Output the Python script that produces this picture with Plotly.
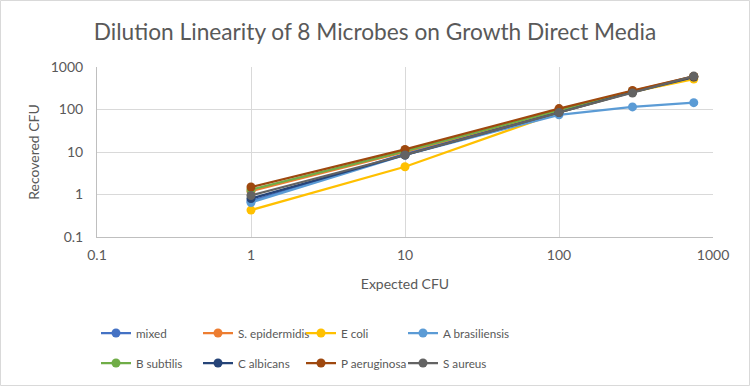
import plotly.graph_objects as go

expected = [1, 10, 100, 300, 750]
series_names = ["mixed", "S. epidermidis", "E coli", "A brasiliensis",
                "B subtilis", "C albicans", "P aeruginosa", "S aureus"]
mixed = [0.7, 9, 90, 260, 580]
s_epidermidis = [1.2, 10, 95, 270, 600]
e_coli = [0.43, 4.5, 85, 260, 520]
a_brasiliensis = [0.65, 8.5, 75, 115, 145]
b_subtilis = [1.3, 10.5, 95, 265, 590]
c_albicans = [0.8, 8.5, 85, 255, 580]
p_aeruginosa = [1.5, 11.5, 105, 280, 600]
s_aureus = [0.95, 8.5, 85, 245, 610]
values = [mixed, s_epidermidis, e_coli, a_brasiliensis,
          b_subtilis, c_albicans, p_aeruginosa, s_aureus]
colors = ["#4472C4", "#ED7D31", "#FFC000", "#5B9BD5",
          "#70AD47", "#264478", "#9E480E", "#636363"]
tick_vals = [0.1, 1, 10, 100, 1000]
tick_text = ["0.1", "1", "10", "100", "1000"]

W, H = 750, 386
L, R, T, B = 97, 37, 67, 149
pw, ph = W - L - R, H - T - B

def py(pix):
    return (H - B - pix) / ph

def px(pix):
    return (pix - L) / pw

font_col = "#595959"
col_starts = [102, 204, 307, 409]
row_centers = [333, 363]

fig = go.Figure()
legends = {}
for i, (name, ys, c) in enumerate(zip(series_names, values, colors)):
    key = "legend" if i == 0 else f"legend{i + 1}"
    fig.add_trace(go.Scatter(
        x=expected, y=ys, name=name, mode="lines+markers",
        line=dict(color=c, width=2.25),
        marker=dict(color=c, size=9),
        legend=key,
    ))
    legends[key] = dict(orientation="h", xanchor="left", yanchor="middle",
                        x=px(col_starts[i % 4] - 6), y=py(row_centers[i // 4]),
                        itemwidth=30, font=dict(size=11.7, color=font_col),
                        bgcolor="rgba(0,0,0,0)")

fig.update_layout(
    width=W, height=H,
    margin=dict(l=L, r=R, t=T, b=B, autoexpand=False),
    paper_bgcolor="white", plot_bgcolor="white",
    font=dict(family="Lato, Liberation Sans, sans-serif", color=font_col, size=12),
    title=dict(text="Dilution Linearity of 8 Microbes on Growth Direct Media",
               x=0.5, xanchor="center", y=1 - 32 / H, yanchor="middle",
               font=dict(size=22.7, color=font_col)),
    xaxis=dict(type="log", range=[-1, 3], tickvals=tick_vals, ticktext=tick_text,
               showgrid=True, gridcolor="#D9D9D9", gridwidth=1,
               showline=True, linecolor="#BFBFBF", zeroline=False,
               ticks="", ticklabelstandoff=5, tickfont=dict(size=14, color=font_col),
               title=dict(text="Expected CFU", font=dict(size=14, color=font_col), standoff=17)),
    yaxis=dict(type="log", range=[-1, 3], tickvals=tick_vals, ticktext=tick_text,
               showgrid=True, gridcolor="#D9D9D9", gridwidth=1,
               showline=True, linecolor="#BFBFBF", zeroline=False,
               ticks="", ticklabelstandoff=10, tickfont=dict(size=14, color=font_col),
               title=dict(text="Recovered CFU", font=dict(size=14, color=font_col), standoff=7)),
    showlegend=True,
    **legends,
)
fig.add_shape(type="rect", xref="paper", yref="paper",
              x0=px(0.5), x1=px(W - 0.5), y0=py(H - 0.5), y1=py(0.5),
              line=dict(color="#D9D9D9", width=1), layer="below")
fig.write_html("out.html", config={"displayModeBar": False},
               post_script="document.body.style.margin='0';")
